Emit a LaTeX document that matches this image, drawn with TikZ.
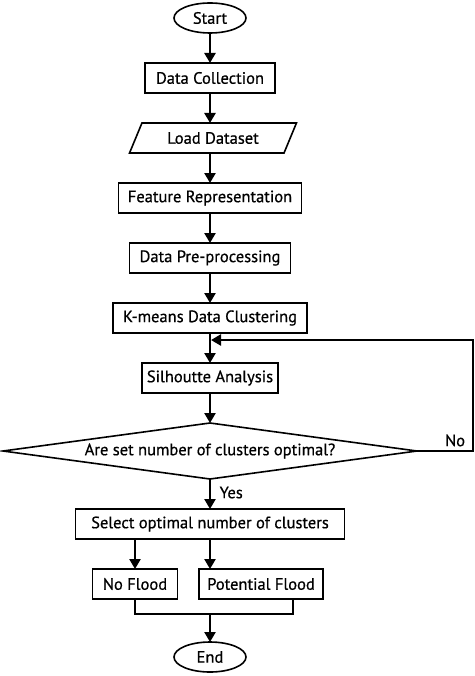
\documentclass[tikz,border=0pt]{standalone}
\usepackage{fontspec}
\setmainfont{PT Sans}
\newfontfamily\boxfont{PT Sans}[FakeBold=0.6]
\usetikzlibrary{arrows.meta,positioning,shapes.geometric}
\tikzset{
    %Define standard arrow tip
    >={Triangle[width=11pt,length=10pt]},
    %Define style for boxes
    term/.style={
           ellipse,
           draw=black, line width=1.6pt,
           minimum width=72pt,
           minimum height=30pt,
           inner sep=0pt, outer sep=0pt,
           font=\boxfont\fontsize{16.5}{18}\selectfont,
           text centered},
    process/.style={
           rectangle,
           draw=black, line width=1.6pt,
           minimum height=30pt,
           inner sep=0pt, outer sep=0pt,
           font=\boxfont\fontsize{16.5}{18}\selectfont,
           text centered},
    io/.style={
           trapezium,
           trapezium left angle=56,
           trapezium right angle=124,
           trapezium stretches=true,
           draw=black, line width=1.6pt,
           minimum width=167pt,
           minimum height=30pt,
           inner sep=0pt, outer sep=0pt,
           font=\boxfont\fontsize{16.5}{18}\selectfont},
    decision/.style={
           diamond,
           aspect=7.4,
           draw=black, line width=1.6pt,
           minimum width=414pt,
           minimum height=56pt,
           inner sep=0pt, outer sep=0pt,
           font=\boxfont\fontsize{16.5}{18}\selectfont},
    % Define arrow style
    pil/.style={
           ->,
           line width=2.6pt},
    merge/.style={
           line width=1.6pt},
    lbl/.style={
           font=\boxfont\fontsize{16.5}{18}\selectfont}
}

\begin{document}
\begin{tikzpicture}[node distance=30pt]
\useasboundingbox (-210pt,18pt) rectangle (264pt,-658pt);
\node[term](start){Start};
\node[process, below=of start, minimum width=130pt](collect){Data Collection};
\node[io, below=of collect, xshift=3pt](load){Load Dataset};
\node[process, below=of load, xshift=-3pt, minimum width=183pt](feature){Feature Representation};
\node[process, below=of feature, minimum width=161pt](prep){Data Pre-processing};
\node[process, below=of prep, minimum width=194pt](kmeans){K-means Data Clustering};
\node[process, below=of kmeans, minimum width=136pt](silh){Silhoutte Analysis};
\node[decision, below=of silh](optimal){Are set number of clusters optimal?};
\node[process, below=of optimal, minimum width=269pt](select){Select optimal number of clusters};
\node[process, below=of select, xshift=-75pt, minimum width=85pt](noflood){No Flood};
\node[process, below=of select, xshift=51pt, minimum width=124pt](pflood){Potential Flood};
\coordinate (join) at ([yshift=-15pt]noflood.south);
\coordinate (joinmid) at (join -| select);
\node[term, below=28pt of joinmid](end){End};
\path[pil] (start) edge (collect) (collect) edge (collect |- load.north) (collect |- load.south) edge (feature)
    (feature) edge (prep) (prep) edge (kmeans) (kmeans) edge (silh) (silh) edge (optimal);
\path[pil] (optimal) edge node[lbl, right=5pt, pos=0.45]{Yes} (select);
\draw[pil] (optimal.east) -- node[lbl, above, pos=0.68]{No} ++(56pt,0pt)
    |- ([xshift=1pt, yshift=-7pt]kmeans.south);
\draw[pil] (select.south -| noflood) -- (noflood.north);
\draw[pil] (select.south) -- (select.south |- pflood.north);
\draw[merge] (noflood.south) -- (join) -| ([xshift=32pt]pflood.south);
\draw[pil] (joinmid) -- (end.north);
\end{tikzpicture}
\end{document}
